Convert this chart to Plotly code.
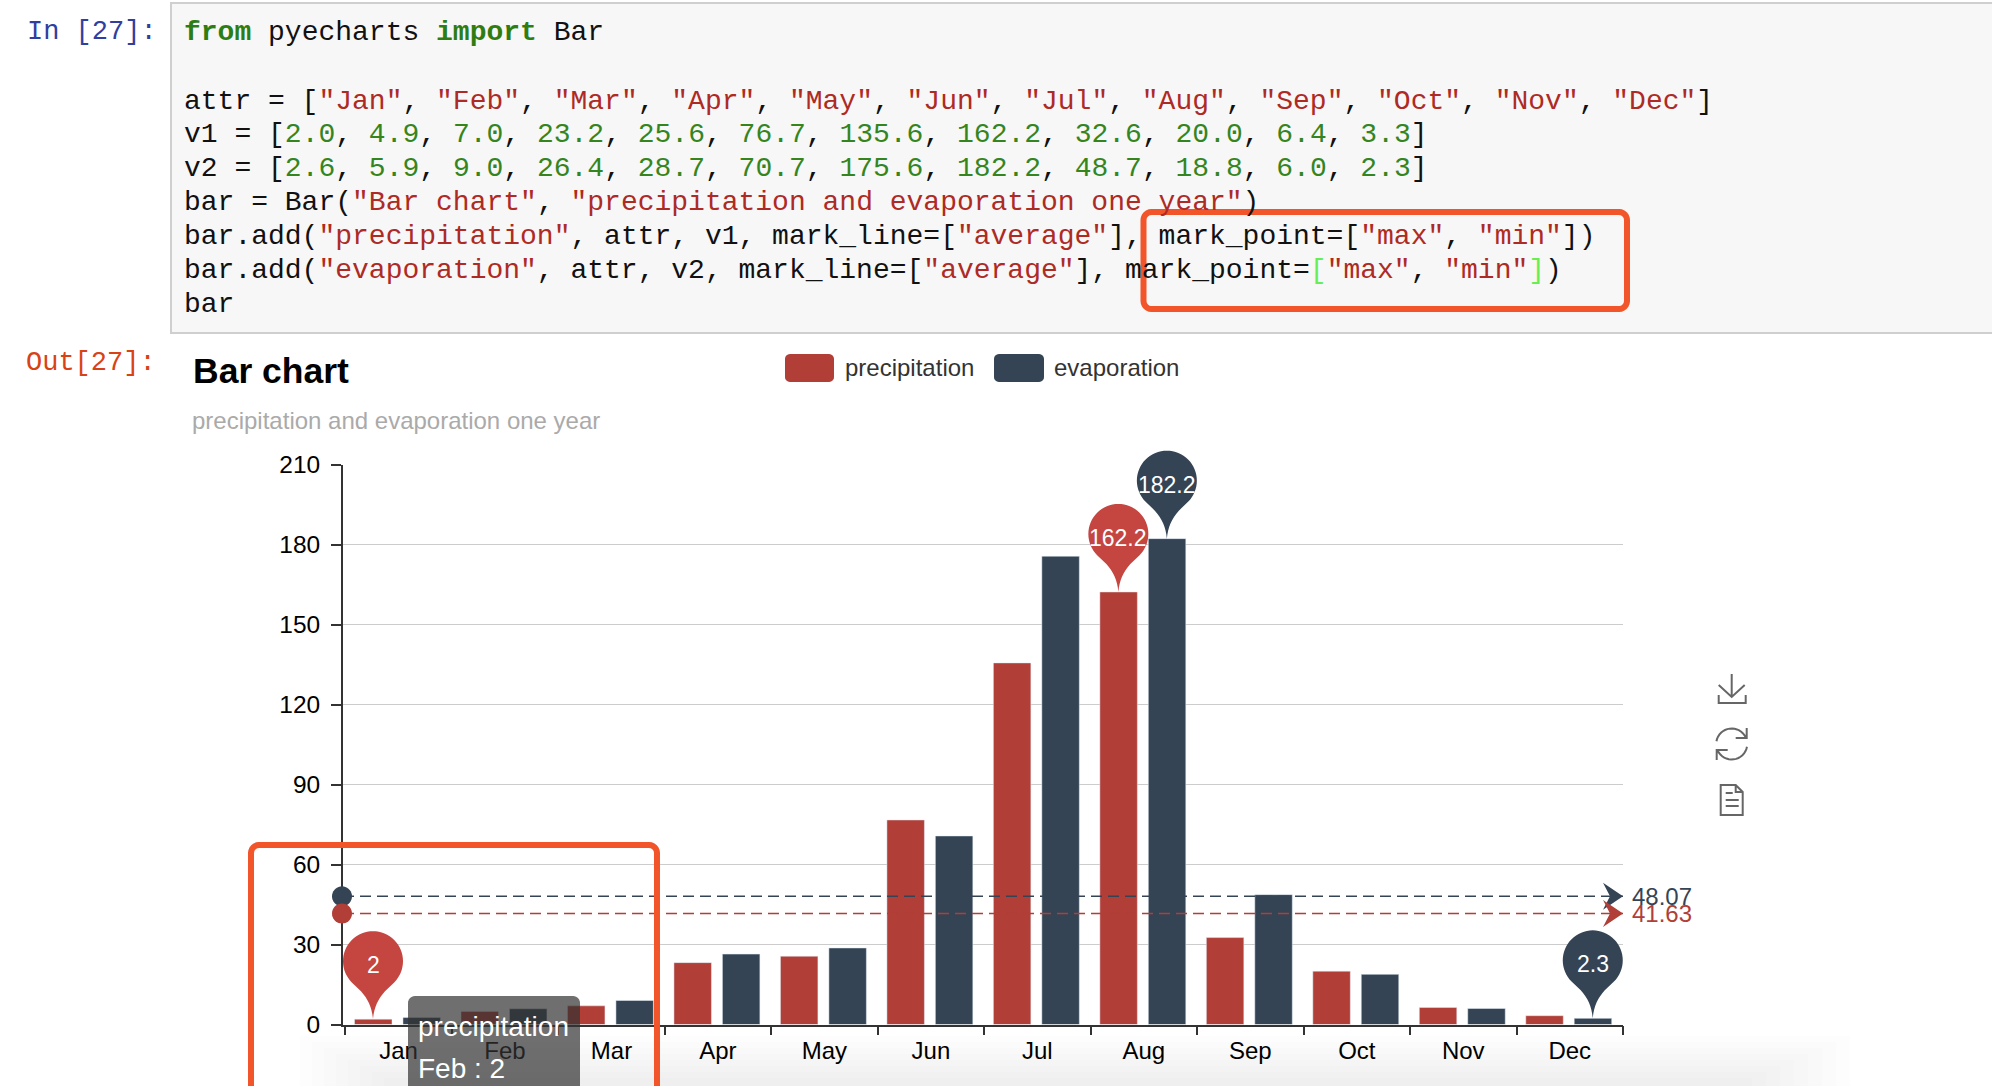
import math
import plotly.graph_objects as go

W, H = 1992, 1086

months = ["Jan", "Feb", "Mar", "Apr", "May", "Jun", "Jul", "Aug", "Sep", "Oct", "Nov", "Dec"]
precipitation = [2.0, 4.9, 7.0, 23.2, 25.6, 76.7, 135.6, 162.2, 32.6, 20.0, 6.4, 3.3]
evaporation = [2.6, 5.9, 9.0, 26.4, 28.7, 70.7, 175.6, 182.2, 48.7, 18.8, 6.0, 2.3]
avg_precipitation = 41.63
avg_evaporation = 48.07
y_ticks = [0, 30, 60, 90, 120, 150, 180, 210]
y_max = 210

RED = "#b13e37"
BLUE = "#344454"
PIN_RED = "#c54640"
PIN_BLUE = "#344455"
BOX = "#f15529"
KW = "#2e7d12"
STR = "#ae2a24"
NUM = "#35851f"
TXT = "#111111"
BRK = "#66ee55"

Y_DOMAIN = [1 - 1024.5 / H, 1 - 464.5 / H]

# the notebook cell, one list of (colour, text, bold) per line
code_lines = [
    (33, [(KW, "from", True), (TXT, " pyecharts ", False), (KW, "import", True), (TXT, " Bar", False)]),
    (101, [(TXT, "attr = [", False), (STR, '"Jan"', False), (TXT, ", ", False), (STR, '"Feb"', False), (TXT, ", ", False),
           (STR, '"Mar"', False), (TXT, ", ", False), (STR, '"Apr"', False), (TXT, ", ", False), (STR, '"May"', False),
           (TXT, ", ", False), (STR, '"Jun"', False), (TXT, ", ", False), (STR, '"Jul"', False), (TXT, ", ", False),
           (STR, '"Aug"', False), (TXT, ", ", False), (STR, '"Sep"', False), (TXT, ", ", False), (STR, '"Oct"', False),
           (TXT, ", ", False), (STR, '"Nov"', False), (TXT, ", ", False), (STR, '"Dec"', False), (TXT, "]", False)]),
    (134.7, [(TXT, "v1 = [", False), (NUM, "2.0", False), (TXT, ", ", False), (NUM, "4.9", False), (TXT, ", ", False),
             (NUM, "7.0", False), (TXT, ", ", False), (NUM, "23.2", False), (TXT, ", ", False), (NUM, "25.6", False),
             (TXT, ", ", False), (NUM, "76.7", False), (TXT, ", ", False), (NUM, "135.6", False), (TXT, ", ", False),
             (NUM, "162.2", False), (TXT, ", ", False), (NUM, "32.6", False), (TXT, ", ", False), (NUM, "20.0", False),
             (TXT, ", ", False), (NUM, "6.4", False), (TXT, ", ", False), (NUM, "3.3", False), (TXT, "]", False)]),
    (168.7, [(TXT, "v2 = [", False), (NUM, "2.6", False), (TXT, ", ", False), (NUM, "5.9", False), (TXT, ", ", False),
             (NUM, "9.0", False), (TXT, ", ", False), (NUM, "26.4", False), (TXT, ", ", False), (NUM, "28.7", False),
             (TXT, ", ", False), (NUM, "70.7", False), (TXT, ", ", False), (NUM, "175.6", False), (TXT, ", ", False),
             (NUM, "182.2", False), (TXT, ", ", False), (NUM, "48.7", False), (TXT, ", ", False), (NUM, "18.8", False),
             (TXT, ", ", False), (NUM, "6.0", False), (TXT, ", ", False), (NUM, "2.3", False), (TXT, "]", False)]),
    (202.7, [(TXT, "bar = Bar(", False), (STR, '"Bar chart"', False), (TXT, ", ", False),
             (STR, '"precipitation and evaporation one year"', False), (TXT, ")", False)]),
    (236.7, [(TXT, "bar.add(", False), (STR, '"precipitation"', False), (TXT, ", attr, v1, mark_line=[", False),
             (STR, '"average"', False), (TXT, "], mark_point=[", False), (STR, '"max"', False), (TXT, ", ", False),
             (STR, '"min"', False), (TXT, "])", False)]),
    (270.7, [(TXT, "bar.add(", False), (STR, '"evaporation"', False), (TXT, ", attr, v2, mark_line=[", False),
             (STR, '"average"', False), (TXT, "], mark_point=", False), (BRK, "[", False), (STR, '"max"', False),
             (TXT, ", ", False), (STR, '"min"', False), (BRK, "]", False), (TXT, ")", False)]),
    (304.7, [(TXT, "bar", False)]),
]


def page_text(text, x, y, size, color, family="Liberation Sans", anchor="left"):
    return dict(text=text, xref="paper", yref="paper", x=x / W, y=1 - y / H, xanchor=anchor, yanchor="middle",
                showarrow=False, align="left", font=dict(family=family, size=size, color=color))


def poly(points, close=False):
    # page pixels to the y-up offsets used by pixel sized shapes
    s = "M " + " L ".join(f"{x:.2f} {-y:.2f}" for x, y in points)
    return s + (" Z" if close else "")


def arc(cx, cy, r, a0, a1, n=16):
    return [(cx + r * math.cos(math.radians(a0 + (a1 - a0) * i / n)),
             cy + r * math.sin(math.radians(a0 + (a1 - a0) * i / n))) for i in range(n + 1)]


def rounded(x0, y0, x1, y1, r):
    return (arc(x0 + r, y0 + r, r, 180, 270, 6) + arc(x1 - r, y0 + r, r, 270, 360, 6)
            + arc(x1 - r, y1 - r, r, 0, 90, 6) + arc(x0 + r, y1 - r, r, 90, 180, 6))


def page_shape(path, fill=None, line=None, width=0, layer="above"):
    return dict(type="path", path=path, xref="paper", yref="paper", xsizemode="pixel", ysizemode="pixel",
                xanchor=0, yanchor=1, layer=layer, fillcolor=fill or "rgba(0,0,0,0)",
                line=dict(color=line or "rgba(0,0,0,0)", width=width))


def value_to_paper(value):
    # paper y keeps the pin from being clipped at the top of the plot area
    return Y_DOMAIN[0] + value / y_max * (Y_DOMAIN[1] - Y_DOMAIN[0])


def pin_shape(month, value, offset, color):
    # teardrop, tip on the top of the bar, sizes in pixels
    top = arc(offset, 58, 30, 225, -45, 48)
    path = (f"M {offset} 0 C {offset - 1} 12 {offset - 5} 20 {offset - 12} 28 L "
            + " L ".join(f"{x:.2f} {y:.2f}" for x, y in top)
            + f" L {offset + 12} 28 C {offset + 5} 20 {offset + 1} 12 {offset} 0 Z")
    return dict(type="path", path=path, xref="x", yref="paper", xsizemode="pixel", ysizemode="pixel",
                xanchor=month, yanchor=value_to_paper(value), layer="above", fillcolor=color, line=dict(width=0))


def avg_shapes(value, color):
    circle = "M " + " L ".join(f"{x:.2f} {y:.2f}" for x, y in arc(0, 0, 10, 0, 360, 36)) + " Z"
    return [
        dict(type="line", xref="x domain", yref="y", x0=0, x1=1, y0=value, y1=value, layer="above",
             line=dict(color=color, width=1.5, dash="11px,6px")),
        dict(type="path", path=circle, xref="paper", yref="y", xsizemode="pixel", ysizemode="pixel",
             xanchor=342 / W, yanchor=value, layer="above", fillcolor=color, line=dict(width=0)),
        dict(type="path", path="M 0 0 L -20 13.5 L -13 0 L -20 -13.5 Z", xref="x domain", yref="y",
             xsizemode="pixel", ysizemode="pixel", xanchor=1, yanchor=value, layer="above",
             fillcolor=color, line=dict(width=0)),
    ]


fig = go.Figure()
fig.add_trace(go.Bar(x=months, y=precipitation, name="precipitation", marker_color=RED, width=0.352, offset=-0.413))
fig.add_trace(go.Bar(x=months, y=evaporation, name="evaporation", marker_color=BLUE, width=0.352, offset=0.042))

shapes = []
annotations = []

# faint shadow at the bottom of the screenshot
for i in range(8):
    shapes.append(page_shape(poly([(300 + i * 12, 1036 + i * 6), (1850 - i * 14, 1036 + i * 6),
                                   (1850 - i * 14, H), (300 + i * 12, H)], True),
                             fill="rgba(0,0,0,0.007)", layer="below"))

# code cell
shapes.append(page_shape(poly([(171, 3), (W + 5, 3), (W + 5, 333), (171, 333)], True),
                         fill="#f7f7f7", line="#cfcfcf", width=2, layer="below"))
for y, segments in code_lines:
    text = ""
    for color, part, bold in segments:
        piece = f"<b>{part}</b>" if bold else part
        text += f'<span style="color:{color}">{piece}</span>'
    annotations.append(page_text(text, 182, y, 28, TXT, family="Liberation Mono"))

annotations.append(page_text("In [27]:", 24.5, 32.5, 27, "#303f9f", family="Liberation Mono"))
annotations.append(page_text("Out[27]:", 23.5, 363, 27, "#d84315", family="Liberation Mono"))

# legend
shapes.append(page_shape(poly(rounded(785, 354, 834, 382, 5), True), fill=RED))
shapes.append(page_shape(poly(rounded(994, 354, 1044, 382, 5), True), fill=BLUE))
annotations.append(page_text("precipitation", 843, 367.5, 24, "#333333"))
annotations.append(page_text("evaporation", 1051.5, 367.5, 24, "#333333"))
annotations.append(page_text("precipitation and evaporation one year", 190, 421, 24, "#aaaaaa"))

# average lines
shapes += avg_shapes(avg_evaporation, BLUE)
shapes += avg_shapes(avg_precipitation, RED)
annotations.append(dict(text=f"{avg_evaporation}", xref="x domain", yref="y", x=1, y=avg_evaporation, xanchor="left",
                        xshift=7, showarrow=False, font=dict(family="Liberation Sans", size=24, color=BLUE)))
annotations.append(dict(text=f"{avg_precipitation}", xref="x domain", yref="y", x=1, y=avg_precipitation, xanchor="left",
                        xshift=7, showarrow=False, font=dict(family="Liberation Sans", size=24, color=RED)))

# max and min pins
pins = [
    (precipitation, max(precipitation), -25.5, PIN_RED),
    (precipitation, min(precipitation), -25.5, PIN_RED),
    (evaporation, max(evaporation), 23, PIN_BLUE),
    (evaporation, min(evaporation), 23, PIN_BLUE),
]
for series, value, offset, color in pins:
    month = months[series.index(value)]
    shapes.append(pin_shape(month, value, offset, color))
    annotations.append(dict(text=f"{value:g}", x=month, y=value, xref="x", yref="y", xshift=offset, yshift=54,
                            showarrow=False, font=dict(family="Liberation Sans", size=23, color="#ffffff")))

# tooltip
shapes.append(page_shape(poly(rounded(408, 996, 580, 1100, 7), True), fill="rgba(50,50,50,0.7)"))
annotations.append(page_text("precipitation", 416, 1026, 28, "#ffffff"))
annotations.append(page_text("Feb : 2", 416, 1068, 28, "#ffffff"))

# red highlight boxes
shapes.append(page_shape(poly(rounded(1143.5, 212, 1627, 309, 8), True), line=BOX, width=6))
shapes.append(page_shape(poly(rounded(251, 845, 657, 1110, 8), True), line=BOX, width=6))

# toolbox icons
ICON = "#666666"
cx = 1731.7
shapes.append(page_shape(
    poly([(cx, 674), (cx, 697)]) + " " + poly([(cx - 13, 685), (cx, 697), (cx + 13, 685)]) + " "
    + poly([(cx - 13, 695), (cx - 13, 703), (cx + 14, 703), (cx + 14, 695)]), line=ICON, width=2))
shapes.append(page_shape(
    poly(arc(cx, 744, 15.5, 190, 335)) + " " + poly([(cx + 4, 738), (cx + 15, 738), (cx + 15, 728)]) + " "
    + poly(arc(cx, 744, 15.5, 10, 155)) + " " + poly([(cx - 4, 750), (cx - 15, 750), (cx - 15, 760)]),
    line=ICON, width=2))
shapes.append(page_shape(
    poly([(cx - 11, 785), (cx + 4, 785), (cx + 11, 792), (cx + 11, 815), (cx - 11, 815)], True) + " "
    + poly([(cx + 4, 785), (cx + 4, 792), (cx + 11, 792)]) + " "
    + poly([(cx - 6, 793), (cx + 1, 793)]) + " " + poly([(cx - 6, 800), (cx + 7, 800)]) + " "
    + poly([(cx - 6, 806), (cx + 7, 806)]), line=ICON, width=2))

fig.update_layout(
    width=W,
    height=H,
    margin=dict(l=0, r=0, t=0, b=0, autoexpand=False),
    paper_bgcolor="#ffffff",
    plot_bgcolor="rgba(0,0,0,0)",
    showlegend=False,
    hovermode=False,
    title=dict(text="<b>Bar chart</b>", x=193 / W, xanchor="left", xref="paper", y=1 - 371 / H, yanchor="middle",
               yref="container", font=dict(family="Liberation Sans", size=35.5, color="#000000")),
    xaxis=dict(domain=[343 / W, 1623 / W], type="category", tickson="boundaries", ticks="outside", ticklen=9,
               tickwidth=1.5, tickcolor="#333333", showline=True, linecolor="#333333", linewidth=1.8,
               showgrid=False, ticklabelstandoff=4, automargin=False,
               tickfont=dict(family="Liberation Sans", size=24, color="#000000")),
    yaxis=dict(domain=Y_DOMAIN, range=[0, y_max], tickvals=y_ticks, ticks="outside", ticklen=10,
               tickwidth=1.5, tickcolor="#333333", showline=True, linecolor="#333333", linewidth=1.8,
               gridcolor="#cccccc", gridwidth=1.3, zeroline=False, ticklabelstandoff=6, automargin=False,
               tickfont=dict(family="Liberation Sans", size=24.5, color="#000000")),
    shapes=shapes,
    annotations=annotations,
)

fig.write_html("out.html", config={"displayModeBar": False}, post_script="document.body.style.margin='0';")
